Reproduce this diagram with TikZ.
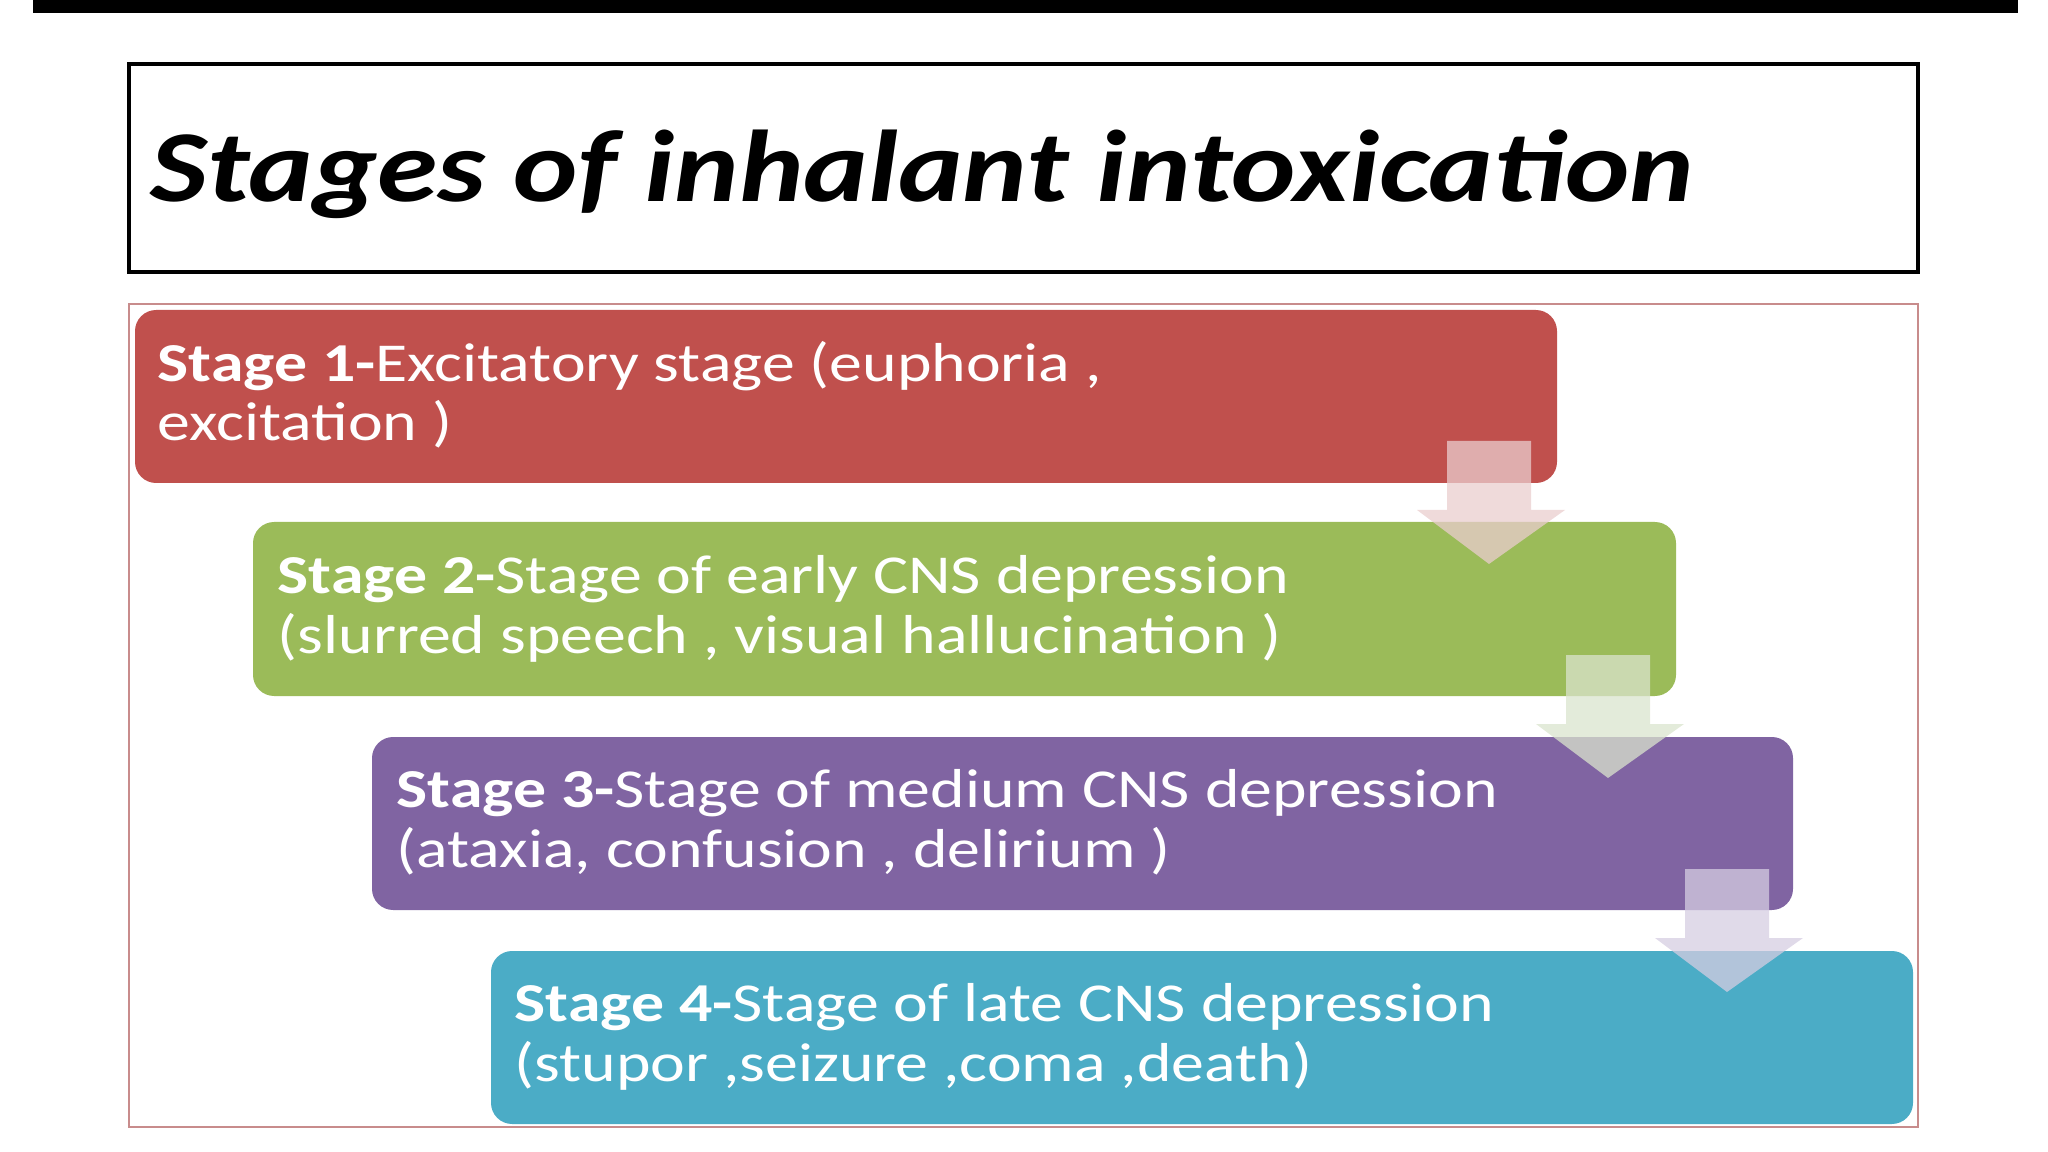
\documentclass[tikz,border=0pt]{standalone}
\usepackage{fontspec}
\setmainfont{Carlito}[FakeStretch=1.2]
\begin{document}
\begin{tikzpicture}[x=0.01cm,y=-0.01cm,
  stagebox/.style={rounded corners=6pt},
  stagetext/.style={anchor=base west,align=left,text=white,font=\fontsize{15.6pt}{17pt}\selectfont,inner sep=0pt},
  downarrow/.style={opacity=0.75}]
\useasboundingbox (0,0) rectangle (2048,1152);
\fill[black] (33,0) rectangle (2018,13);
\draw[line width=1pt] (129,64) rectangle (1918,272);
\node[anchor=base west,inner sep=0pt,font=\fontsize{29pt}{32pt}\selectfont\bfseries\itshape] (title) at (150,202) {Stages of inhalant intoxication};
\draw[draw={rgb,255:red,200;green,140;blue,140},line width=0.6pt] (129,304) rectangle (1918,1127);
\definecolor{c1}{RGB}{192,80,77}
\definecolor{c2}{RGB}{155,187,89}
\definecolor{c3}{RGB}{128,100,162}
\definecolor{c4}{RGB}{75,172,198}
\definecolor{a1}{RGB}{234,205,206}
\definecolor{a2}{RGB}{218,228,205}
\definecolor{a3}{RGB}{213,205,226}
\fill[c1,stagebox] (135,310) rectangle (1557,483);
\fill[c2,stagebox] (253,522) rectangle (1676,696);
\fill[c3,stagebox] (372,737) rectangle (1793,910);
\fill[c4,stagebox] (491,951) rectangle (1913,1124);
\foreach \i/\c in {0/a1,1/a2,2/a3}{
  \fill[\c,downarrow,shift={(119*\i,214*\i)}] (1447,441) -- (1531,441) -- (1531,510) -- (1565,510) -- (1489,564) -- (1417,510) -- (1447,510) -- cycle;
}
\node[stagetext] (s1) at (157,441) {\textbf{Stage 1-}Excitatory stage (euphoria ,\\ excitation )};
\node[stagetext] (s2) at (277,653) {\textbf{Stage 2-}Stage of early CNS depression\\(slurred speech , visual hallucination )};
\node[stagetext] (s3) at (396,867) {\textbf{Stage 3-}Stage of medium CNS depression\\(ataxia, confusion , delirium )};
\node[stagetext] (s4) at (514,1081) {\textbf{Stage 4-}Stage of late CNS depression\\(stupor ,seizure ,coma ,death)};
\end{tikzpicture}
\end{document}
